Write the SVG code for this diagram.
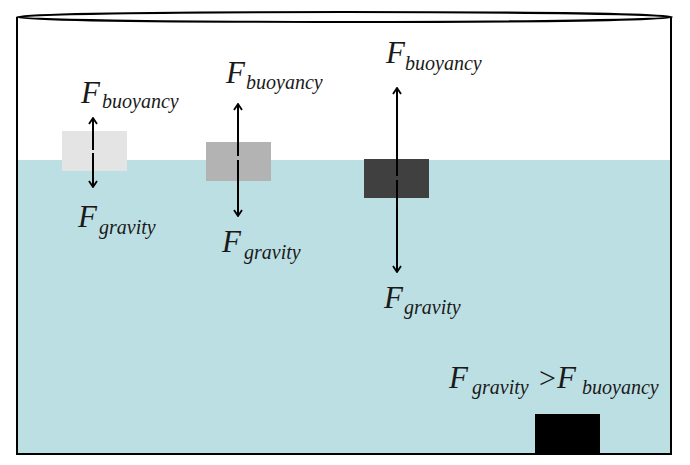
<svg xmlns="http://www.w3.org/2000/svg" width="690" height="465" viewBox="0 0 690 465">
<style>
.lbl{font-family:"Liberation Serif","Times New Roman",serif;font-style:italic;fill:#1a1a1a}
.F{font-size:31px}
.sub{font-size:20px}
.gt{font-size:30px;font-style:normal}
.arr{stroke:#000;stroke-width:2;fill:none;marker-end:url(#head)}
.wall{stroke:#000;stroke-width:2;fill:none}
</style>
<defs>
<marker id="head" viewBox="0 0 10 10" refX="9" refY="5" markerWidth="10" markerHeight="10" orient="auto" markerUnits="userSpaceOnUse">
<path d="M3,1 L9,5 L3,9" fill="none" stroke="#000" stroke-width="1.8"/>
</marker>
</defs>
<rect x="0" y="0" width="690" height="465" fill="#fff"/>
<g id="container">
<rect x="18" y="160" width="652" height="293" fill="#bcdfe3"/>
<path class="wall" d="M17,17 V454 H671 V17"/>
<ellipse cx="344.5" cy="17" rx="327.5" ry="5" class="wall"/>
</g>
<g id="block1"><rect x="62" y="131" width="65" height="40" fill="#e4e4e4"/></g>
<g id="block2"><rect x="206" y="142" width="65" height="39" fill="#b3b3b3"/></g>
<g id="block3"><rect x="364" y="159" width="65" height="39" fill="#404040"/></g>
<g id="block4"><rect x="535" y="414" width="65" height="39" fill="#000"/></g>
<g id="connectors">
<line class="arr" x1="93" y1="150" x2="93" y2="118"/>
<line class="arr" x1="93" y1="153" x2="93" y2="187"/>
<line class="arr" x1="238" y1="156" x2="238" y2="104"/>
<line class="arr" x1="238" y1="160" x2="238" y2="216"/>
<line class="arr" x1="397" y1="176" x2="397" y2="88"/>
<line class="arr" x1="397" y1="180" x2="397" y2="272"/>
</g>
<g id="labels">
<text class="lbl" x="81" y="103"><tspan class="F">F</tspan><tspan class="sub" x="102" y="108">buoyancy</tspan></text>
<text class="lbl" x="78" y="227"><tspan class="F">F</tspan><tspan class="sub" x="99" y="234">gravity</tspan></text>
<text class="lbl" x="226" y="83"><tspan class="F">F</tspan><tspan class="sub" x="246" y="89">buoyancy</tspan></text>
<text class="lbl" x="222" y="252"><tspan class="F">F</tspan><tspan class="sub" x="244" y="259">gravity</tspan></text>
<text class="lbl" x="386" y="63"><tspan class="F">F</tspan><tspan class="sub" x="405" y="70">buoyancy</tspan></text>
<text class="lbl" x="384" y="308"><tspan class="F">F</tspan><tspan class="sub" x="404" y="314">gravity</tspan></text>
<text class="lbl" x="449" y="388"><tspan class="F">F</tspan><tspan class="sub" x="472" y="394">gravity</tspan><tspan class="gt" x="539" y="388">&gt;</tspan><tspan class="F" x="557" y="388">F</tspan><tspan class="sub" x="582" y="394">buoyancy</tspan></text>
</g>
</svg>
